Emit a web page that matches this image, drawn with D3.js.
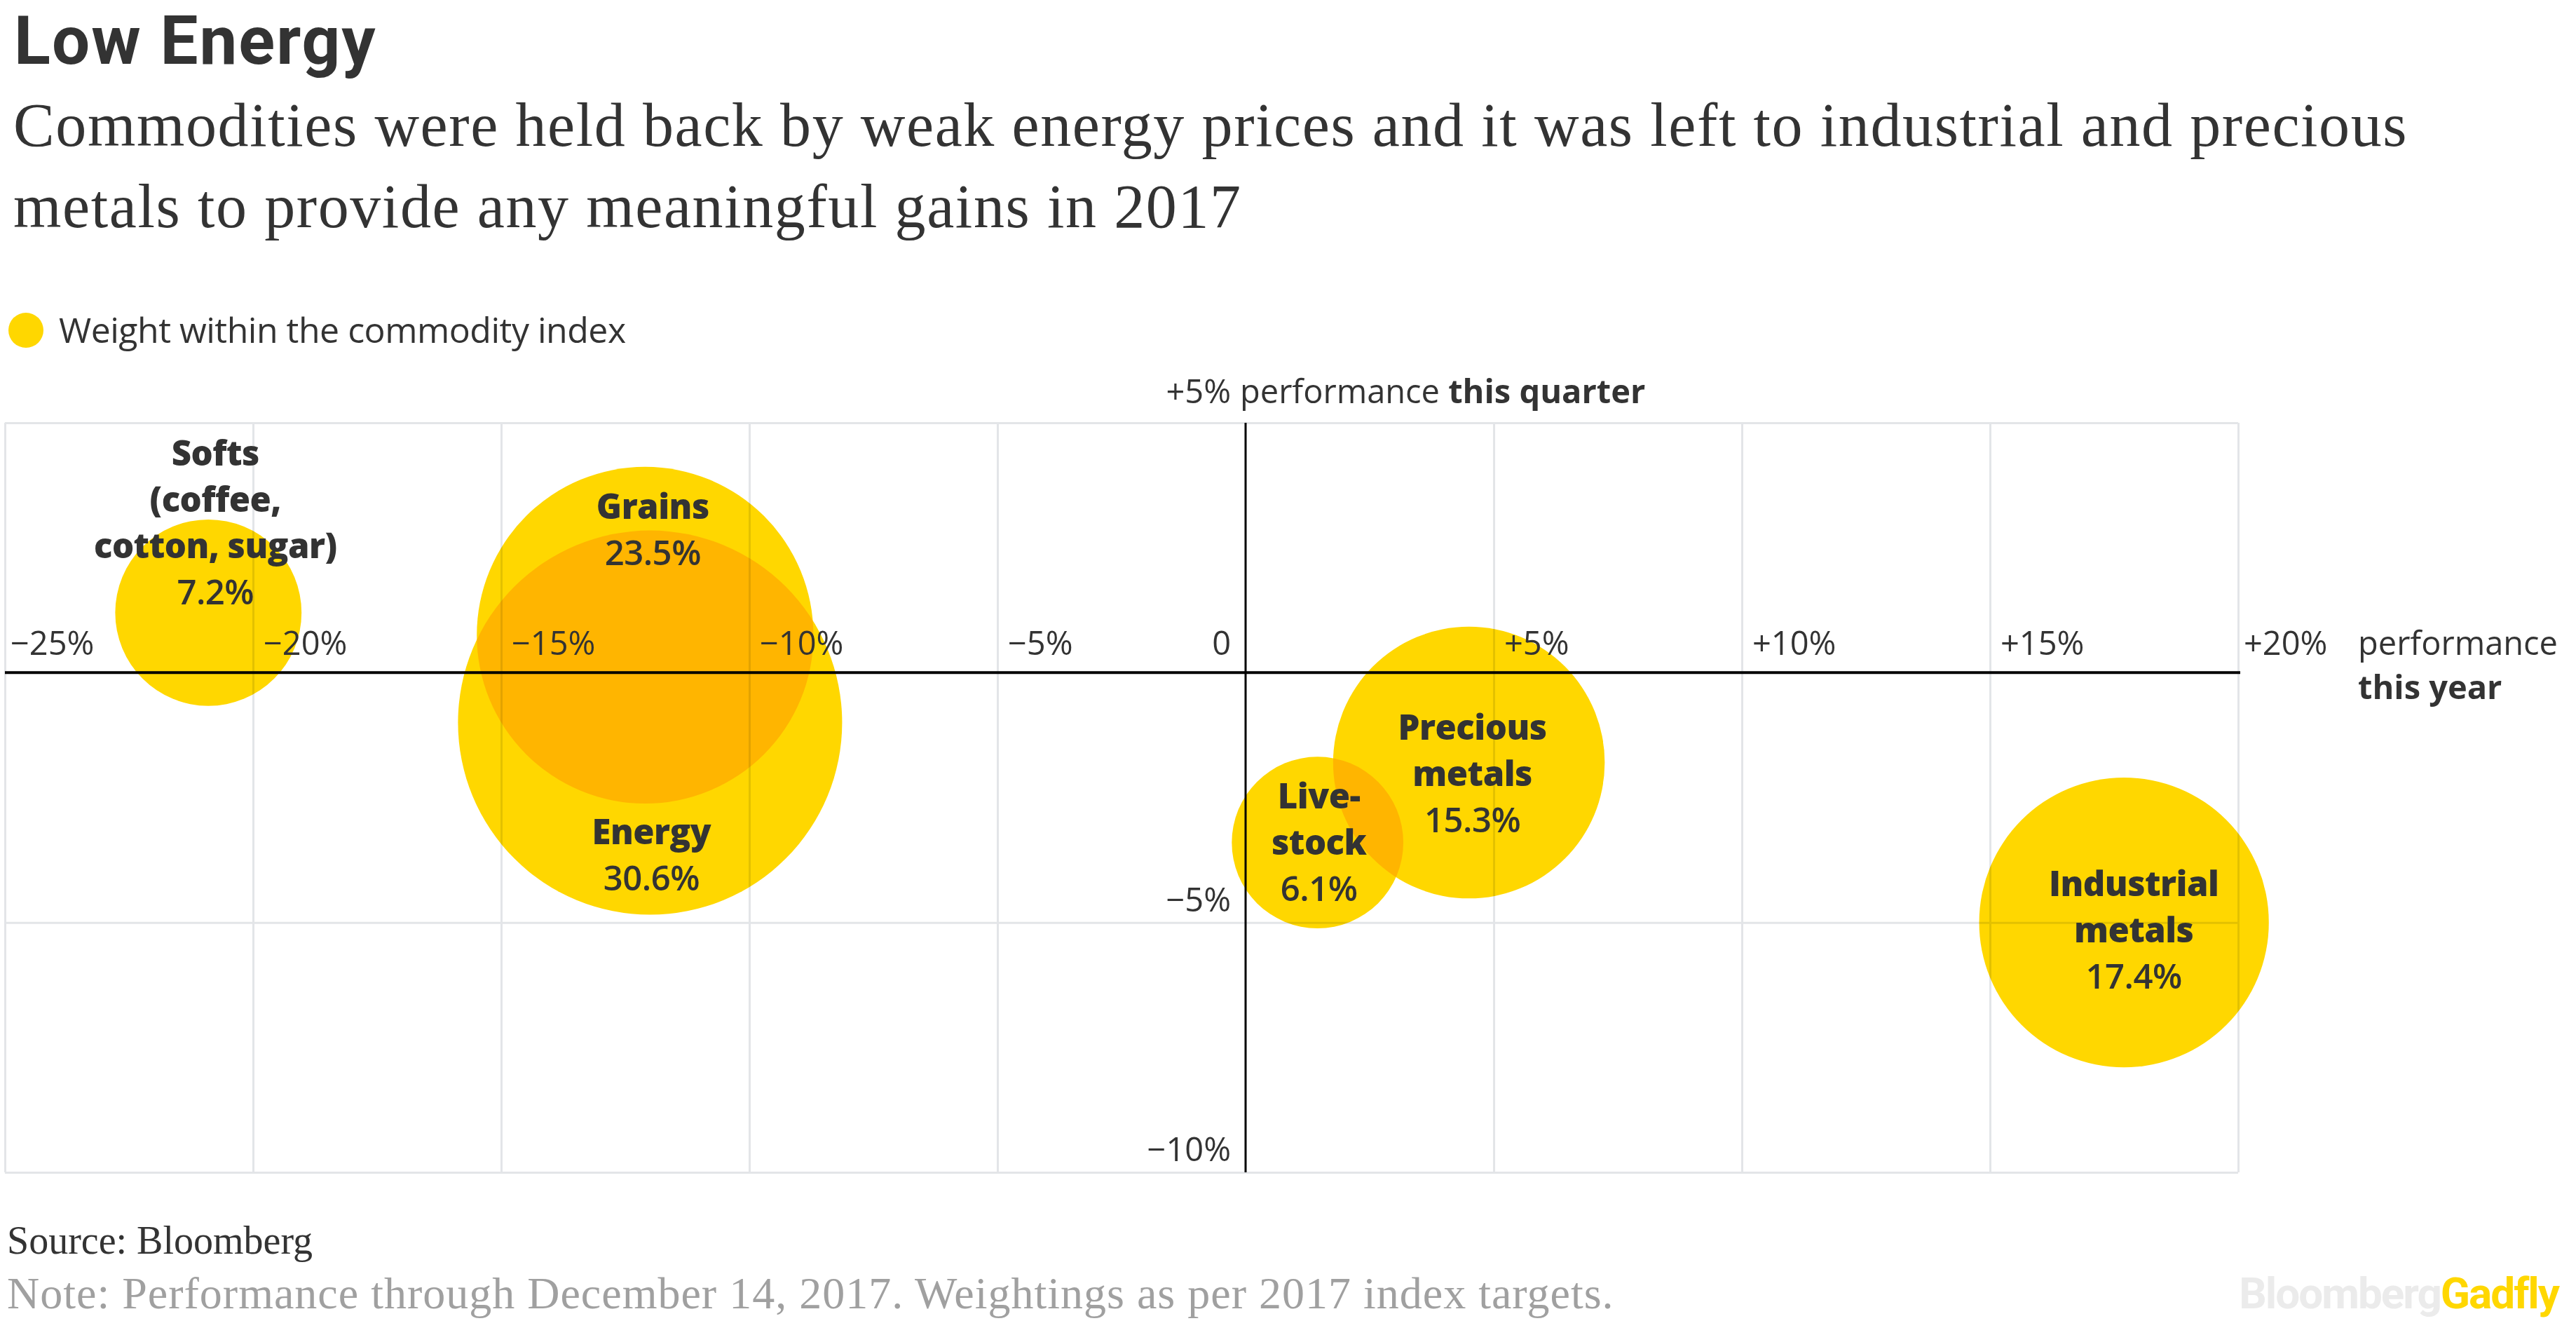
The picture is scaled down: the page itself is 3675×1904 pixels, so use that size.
<!DOCTYPE html>
<html>
<head>
<meta charset="utf-8">
<script src="https://cdn.jsdelivr.net/npm/d3@7"></script>
<style>
  body { margin: 0; background: #fff; }
  svg { display: block; }
  text { fill: #333; }
</style>
</head>
<body>
<svg width="3675" height="1904"></svg>
<script>
const width = 3675
const height = 1904

const commodities = ['Softs', 'Grains', 'Energy', 'Livestock', 'Precious metals', 'Industrial metals']
const yearPerf = [-20.9, -12.1, -12.0, 1.45, 4.5, 17.7]
const quarterPerf = [1.2, 0.75, -1.0, -3.4, -1.8, -5.0]
const weights = [7.2, 23.5, 30.6, 6.1, 15.3, 17.4]
const labelLines = [
  ['Softs', '(coffee,', 'cotton, sugar)'],
  ['Grains'],
  ['Energy'],
  ['Live-', 'stock'],
  ['Precious', 'metals'],
  ['Industrial', 'metals']
]
const xTicks = [-25, -20, -15, -10, -5, 0, 5, 10, 15, 20]
const yTicks = [5, 0, -5, -10]

// where each label block sits relative to its bubble centre (px)
const labelShift = {
  'Softs': [10, -128],
  'Grains': [11, -150],
  'Energy': [2, 189],
  'Livestock': [2, 0],
  'Precious metals': [5, 16],
  'Industrial metals': [14, 11]
}

const sans = "'Open Sans', sans-serif"
const serif = "'Liberation Serif', serif"
const yellow = '#ffd700'
const gridColor = '#e3e5e8'

const svg = d3.select('svg')
svg.append('rect').attr('width', width).attr('height', height).attr('fill', '#fff')

const plot = { left: 7, right: 3193, top: 603, bottom: 1672 }
const x = d3.scaleLinear().domain([-25, 20]).range([plot.left, plot.right])
const y = d3.scaleLinear().domain([-10, 5]).range([plot.bottom, plot.top])
const r = d3.scaleSqrt().domain([0, 30.6]).range([0, 274])

const fmtTick = v => v === 0 ? '0' : (v > 0 ? '+' : '\u2212') + Math.abs(v) + '%'

// header
svg.append('text')
  .attr('x', 20).attr('y', 91)
  .attr('font-family', "'Roboto', sans-serif").attr('font-weight', 700)
  .attr('font-size', 96).attr('letter-spacing', 2)
  .text('Low Energy')

const subtitle = [
  'Commodities were held back by weak energy prices and it was left to industrial and precious',
  'metals to provide any meaningful gains in 2017'
]
subtitle.forEach((line, i) => {
  svg.append('text')
    .attr('x', 19).attr('y', 208 + i * 116)
    .attr('font-family', serif).attr('font-size', 88)
    .attr('letter-spacing', 1.6)
    .text(line)
})

// legend
svg.append('circle').attr('cx', 37).attr('cy', 471).attr('r', 25).attr('fill', yellow)
svg.append('text')
  .attr('x', 84).attr('y', 489)
  .attr('font-family', sans).attr('font-size', 50).attr('letter-spacing', -0.5)
  .text('Weight within the commodity index')

// grid
const grid = svg.append('g')
grid.append('g')
  .attr('transform', `translate(0,${plot.bottom})`)
  .call(d3.axisBottom(x).tickValues(xTicks.filter(d => d !== 0)).tickSize(-(plot.bottom - plot.top)).tickFormat(''))
grid.append('g')
  .attr('transform', `translate(${plot.left},0)`)
  .call(d3.axisLeft(y).tickValues(yTicks.filter(d => d !== 0)).tickSize(-(plot.right - plot.left)).tickFormat(''))
grid.selectAll('.domain').remove()
grid.selectAll('line').attr('stroke', gridColor).attr('stroke-width', 3)

// zero axes
svg.append('line')
  .attr('x1', plot.left).attr('x2', plot.right + 3)
  .attr('y1', y(0)).attr('y2', y(0))
  .attr('stroke', '#000').attr('stroke-width', 4)
svg.append('line')
  .attr('x1', x(0)).attr('x2', x(0))
  .attr('y1', plot.top).attr('y2', plot.bottom)
  .attr('stroke', '#000').attr('stroke-width', 3)

// bubbles
const data = commodities.map((name, i) => ({
  name, year: yearPerf[i], quarter: quarterPerf[i], weight: weights[i], lines: labelLines[i]
}))

svg.append('g')
  .selectAll('circle')
  .data(data)
  .join('circle')
  .attr('cx', d => x(d.year))
  .attr('cy', d => y(d.quarter))
  .attr('r', d => r(d.weight))
  .attr('fill', yellow)
  .style('mix-blend-mode', 'multiply')

// tick labels
const tickSize = 47
svg.append('g')
  .selectAll('text')
  .data(xTicks.filter(d => d !== 0))
  .join('text')
  .attr('x', (d, i, n) => x(d) + (i === 0 || i === n.length - 1 ? 8 : 15))
  .attr('y', y(0) - 25)
  .attr('font-family', sans).attr('font-size', tickSize)
  .text(fmtTick)

svg.append('g')
  .selectAll('text')
  .data(yTicks)
  .join('text')
  .attr('x', x(0) - 21)
  .attr('y', d => d === 0 ? y(0) - 25 : d === 5 ? y(d) - 28 : y(d) - 16)
  .attr('text-anchor', 'end')
  .attr('font-family', sans).attr('font-size', tickSize)
  .text(fmtTick)

const qLabel = svg.append('text')
  .attr('x', x(0) - 8).attr('y', y(5) - 28)
  .attr('font-family', sans).attr('font-size', tickSize)
qLabel.append('tspan').text('performance ')
qLabel.append('tspan').attr('font-weight', 700).text('this quarter')

const yLabel = svg.append('text')
  .attr('font-family', sans).attr('font-size', tickSize)
yLabel.append('tspan').attr('x', x(20) + 171).attr('y', y(0) - 25).text('performance')
yLabel.append('tspan').attr('x', x(20) + 171).attr('y', y(0) + 38).attr('font-weight', 700).text('this year')

// bubble labels
const lh = 66
const labels = svg.append('g')
  .selectAll('text')
  .data(data)
  .join('text')
  .attr('text-anchor', 'middle')
  .attr('font-family', sans).attr('font-size', 49)
  .attr('letter-spacing', -0.5)

labels.each(function (d) {
  const lines = [...d.lines, d.weight.toFixed(1) + '%']
  const n = lines.length
  const [dx, dy] = labelShift[d.name]
  const cx = x(d.year) + dx
  const cy = y(d.quarter) + dy
  d3.select(this).selectAll('tspan')
    .data(lines)
    .join('tspan')
    .attr('x', cx)
    .attr('y', (l, i) => cy + (i - (n - 1) / 2) * lh + 17)
    .attr('font-weight', (l, i) => i === n - 1 ? 600 : 800)
    .text(l => l)
})

// footer
svg.append('text')
  .attr('x', 10).attr('y', 1788)
  .attr('font-family', serif).attr('font-size', 56)
  .text('Source: Bloomberg')
svg.append('text')
  .attr('x', 10).attr('y', 1866)
  .attr('font-family', serif).attr('font-size', 64)
  .attr('letter-spacing', 1)
  .style('fill', '#a0a0a0')
  .text('Note: Performance through December 14, 2017. Weightings as per 2017 index targets.')

const logo = svg.append('text')
  .attr('x', 3650).attr('y', 1866)
  .attr('text-anchor', 'end')
  .attr('font-family', "'Roboto', sans-serif").attr('font-weight', 700)
  .attr('font-size', 62).attr('letter-spacing', -2)
logo.append('tspan').style('fill', '#ebebeb').text('Bloomberg')
logo.append('tspan').style('fill', yellow).text('Gadfly')
</script>
</body>
</html>
